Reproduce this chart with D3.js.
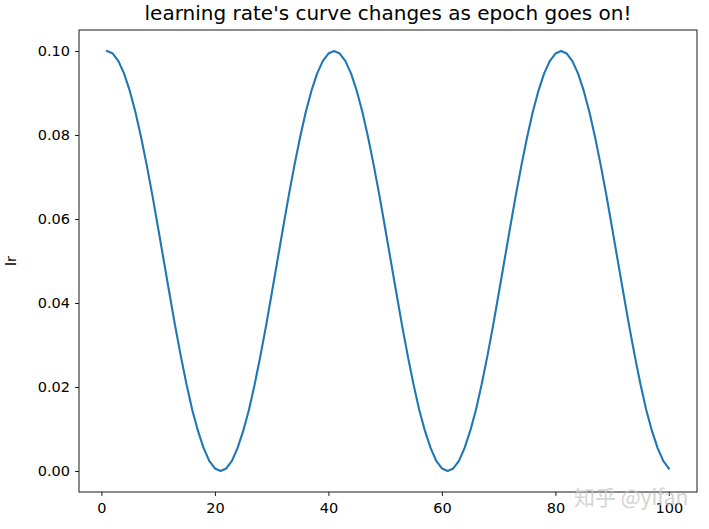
<!DOCTYPE html>
<html>
<head>
<meta charset="utf-8">
<script src="https://cdn.jsdelivr.net/npm/d3@7"></script>
<style>
  body { margin: 0; background: #fff; }
  svg { display: block; font-family: "DejaVu Sans", sans-serif; }
</style>
</head>
<body>
<div id="chart"></div>
<script>
var w = 709,
    h = 529;

var title = "learning rate's curve changes as epoch goes on!";
var yLabel = "lr";
var xTicks = [0, 20, 40, 60, 80, 100];
var yTicks = [0.00, 0.02, 0.04, 0.06, 0.08, 0.10];

// epochs 1..100
var epochs = d3.range(1, 101);
// lr, one per epoch
var lr = [
  0.1000, 0.0994, 0.0976, 0.0946, 0.0905, 0.0854, 0.0794, 0.0727, 0.0655, 0.0578,
  0.0500, 0.0422, 0.0345, 0.0273, 0.0206, 0.0146, 0.0096, 0.0055, 0.0024, 0.0006,
  0.0000, 0.0006, 0.0024, 0.0055, 0.0096, 0.0146, 0.0206, 0.0273, 0.0345, 0.0422,
  0.0500, 0.0578, 0.0655, 0.0727, 0.0794, 0.0854, 0.0905, 0.0946, 0.0976, 0.0994,
  0.1000, 0.0994, 0.0976, 0.0946, 0.0905, 0.0854, 0.0794, 0.0727, 0.0655, 0.0578,
  0.0500, 0.0422, 0.0345, 0.0273, 0.0206, 0.0146, 0.0096, 0.0055, 0.0024, 0.0006,
  0.0000, 0.0006, 0.0024, 0.0055, 0.0096, 0.0146, 0.0206, 0.0273, 0.0345, 0.0422,
  0.0500, 0.0578, 0.0655, 0.0727, 0.0794, 0.0854, 0.0905, 0.0946, 0.0976, 0.0994,
  0.1000, 0.0994, 0.0976, 0.0946, 0.0905, 0.0854, 0.0794, 0.0727, 0.0655, 0.0578,
  0.0500, 0.0422, 0.0345, 0.0273, 0.0206, 0.0146, 0.0096, 0.0055, 0.0024, 0.0006
];

var margin = {top: 30, right: 12, bottom: 37, left: 79};

var svg = d3.select("#chart")
            .append("svg")
            .attr("width", w)
            .attr("height", h);

var x = d3.scaleLinear()
          .domain([1 - 99 * 0.05, 100 + 99 * 0.05])
          .range([margin.left, w - margin.right]);

var y = d3.scaleLinear()
          .domain([-0.005, 0.105])
          .range([h - margin.bottom, margin.top]);

// line
var line = d3.line()
             .x(function(d, i) { return x(epochs[i]); })
             .y(function(d) { return y(d); });

svg.append("path")
   .datum(lr)
   .attr("d", line)
   .attr("fill", "none")
   .attr("stroke", "#1f77b4")
   .attr("stroke-width", 2.1)
   .attr("stroke-linejoin", "round")
   .attr("stroke-linecap", "square");

// axes
var xAxis = svg.append("g")
   .attr("transform", "translate(0," + (h - margin.bottom) + ")")
   .call(d3.axisBottom(x).tickValues(xTicks).tickFormat(d3.format("d")).tickSize(4).tickPadding(7));

var yAxis = svg.append("g")
   .attr("transform", "translate(" + margin.left + ",0)")
   .call(d3.axisLeft(y).tickValues(yTicks).tickFormat(d3.format(".2f")).tickSize(4).tickPadding(5));

[xAxis, yAxis].forEach(function(g) {
  g.select(".domain").remove();
  g.selectAll("line").attr("stroke", "#000").attr("stroke-width", 0.9);
  g.selectAll("text").attr("font-size", "14.5px").attr("fill", "#000")
   .attr("font-family", "DejaVu Sans, sans-serif");
});

// frame
svg.append("rect")
   .attr("x", margin.left)
   .attr("y", margin.top)
   .attr("width", w - margin.left - margin.right)
   .attr("height", h - margin.top - margin.bottom)
   .attr("fill", "none")
   .attr("stroke", "#000")
   .attr("stroke-width", 0.9);

// title
svg.append("text")
   .text(title)
   .attr("x", (margin.left + w - margin.right) / 2)
   .attr("y", 20)
   .attr("text-anchor", "middle")
   .attr("font-size", "20px")
   .attr("fill", "#000");

// y label
svg.append("text")
   .text(yLabel)
   .attr("transform", "translate(16," + ((margin.top + h - margin.bottom) / 2) + ") rotate(-90)")
   .attr("text-anchor", "middle")
   .attr("font-size", "14.5px")
   .attr("fill", "#000");

// watermark
svg.append("text")
   .text("知乎 @yifan")
   .attr("x", 574)
   .attr("y", 505)
   .attr("font-family", "Noto Sans CJK SC, sans-serif")
   .attr("font-size", "21px")
   .attr("fill", "#c8c8c8")
   .attr("fill-opacity", 0.8);
</script>
</body>
</html>
